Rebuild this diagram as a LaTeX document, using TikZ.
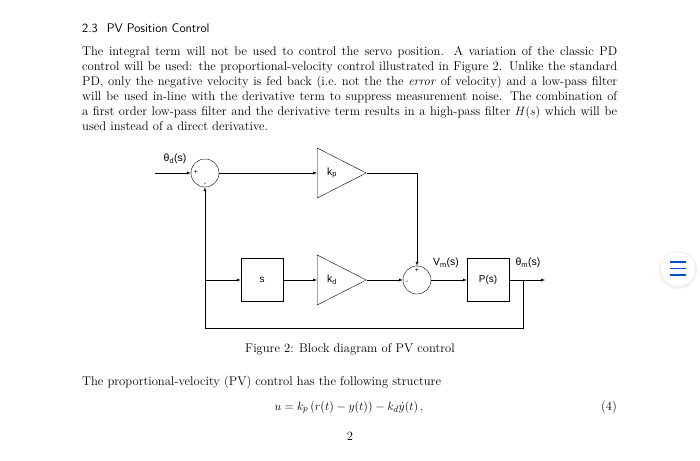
\documentclass[tikz,border=0pt]{standalone}
\usepackage{fontspec}
\usepackage{amsmath}
\newfontfamily\diagfont{Liberation Sans}
\usetikzlibrary{shapes.geometric}

\begin{document}
\begin{tikzpicture}[x=1pt, y=-1pt, thin, >=latex,
    blk/.style={draw, minimum width=42pt, minimum height=43pt, inner sep=0pt, font=\diagfont\fontsize{10}{11}\selectfont},
    amp/.style={draw, isosceles triangle, isosceles triangle stretches, minimum width=50pt, minimum height=49pt, inner sep=0pt, anchor=west},
    sumc/.style={draw, circle, minimum size=28pt, inner sep=0pt},
    lbl/.style={font=\diagfont\fontsize{10.5}{11}\selectfont, inner sep=0pt},
    sgn/.style={font=\diagfont\fontsize{7}{7}\selectfont, inner sep=0pt},
    txt/.style={inner sep=0pt, font=\fontsize{12.6}{15.1}\selectfont}]
    \useasboundingbox[fill=white] (0,0) rectangle (700,460);

    % 页面文字
    \node[anchor=base west, inner sep=0pt, font=\sffamily\fontsize{12.5}{14}\selectfont] (sec) at (82,33) {2.3\hspace{9pt}PV Position Control};
    \node[txt, anchor=north west, text width=535pt, align=justify] (par) at (82,46)
      {The integral term will not be used to control the servo position. A variation of the classic PD\linebreak control will be used: the proportional-velocity control illustrated in Figure 2. Unlike the standard\linebreak PD, only the negative velocity is fed back (i.e.\ not the the \emph{error} of velocity) and a low-pass filter\linebreak will be used in-line with the derivative term to suppress measurement noise. The combination of\linebreak a first order low-pass filter and the derivative term results in a high-pass filter $H(s)$ which will be\linebreak used instead of a direct derivative.};

    % 方框图
    \node[sumc] (sum1) at (205,173) {};
    \node[sgn] at (196,172) {+};
    \node[sgn] at (205,184) {-};
    \node[amp] (kp) at (317,173) {};
    \node[lbl] at (332,173) {k\textsubscript{p}};
    \node[blk] (s) at (262,280) {s};
    \node[amp] (kd) at (317,280) {};
    \node[lbl] at (332,280) {k\textsubscript{d}};
    \node[sumc] (sum2) at (417,280) {};
    \node[sgn] at (417,270) {+};
    \node[sgn] at (407,282) {-};
    \node[blk] (P) at (488,280) {P(s)};

    \coordinate (in) at (155,173);
    \coordinate (br) at (205,280);
    \coordinate (tap) at (523,280);
    \coordinate (out) at (545,280);
    \coordinate (bl) at (205,328);

    \node[lbl] (thd) at (175,159) {θ\textsubscript{d}(s)};
    \node[lbl] (vm) at (446,263) {V\textsubscript{m}(s)};
    \node[lbl] (thm) at (528,263) {θ\textsubscript{m}(s)};

    \draw[->] (in) -- (sum1);
    \draw[->] (sum1) -- (kp.west);
    \draw[->] (kp.east) -| (sum2.north);
    \draw[->] (br) -- (s);
    \draw[->] (s) -- (kd.west);
    \draw[->] (kd.east) -- (sum2);
    \draw[->] (sum2) -- (P);
    \draw[->] (P) -- (out);
    \draw[->] (tap) |- (bl) -- (sum1.south);

    % 图题与公式
    \node[txt, anchor=base] (cap) at (350,352) {Figure 2: Block diagram of PV control};
    \node[txt, anchor=base west] (txt) at (82,385) {The proportional-velocity (PV) control has the following structure};
    \node[txt, anchor=base] (eq) at (349,410) {$u = k_p\left(r(t) - y(t)\right) - k_d\dot{y}(t)\,,$};
    \node[txt, anchor=base east] (eqn) at (617,410) {(4)};
    \node[txt, anchor=base] (pg) at (350,440) {2};

    % 菜单按钮
    \fill[black!6] (678,270) circle (19pt);
    \node[circle, fill=white, minimum size=34pt, inner sep=0pt] (menu) at (678,269) {};
    \foreach \yy in {262,268.5,275}
        \draw[line width=1.8pt, blue!60!cyan!80!black] (670,\yy) -- (686,\yy);
\end{tikzpicture}
\end{document}
